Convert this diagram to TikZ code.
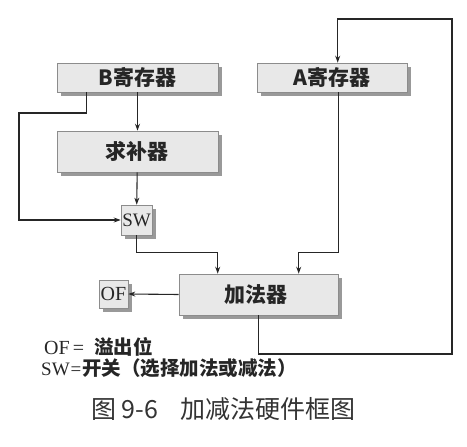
\documentclass[tikz,border=0pt]{standalone}
\usepackage{fontspec}
\setmainfont{Liberation Serif}
\newfontfamily\cjk{Noto Sans CJK SC}
\usetikzlibrary{arrows.meta,shadows,calc}
\tikzset{
  blk/.style={draw=black!45, line width=0.6pt, fill=black!9, inner sep=0pt,
    drop shadow={shadow xshift=4pt, shadow yshift=-4pt, fill=black!40, opacity=1}},
  lbl/.style={font=\cjk\bfseries\fontsize{21}{21}\selectfont, text=black!85},
  smallbox/.style={blk, text=black!85},
  conn/.style={line width=1.1pt, draw=black!85},
  arr/.style={conn, -{Stealth[length=7pt,width=5pt]}}
}
\begin{document}
\begin{tikzpicture}[x=1pt,y=-1pt]
\useasboundingbox (0,0) rectangle (467,447);
\node[blk, lbl, minimum width=161pt, minimum height=29pt] (Bn) at (137.5,77.5) {B寄存器};
\node[blk, lbl, minimum width=150pt, minimum height=29pt] (An) at (332,77.5) {A寄存器};
\node[blk, lbl, minimum width=161pt, minimum height=41pt] (Cn) at (137.5,151.5) {求补器};
\node[smallbox, minimum width=31pt, minimum height=30pt, font=\fontsize{19}{19}\selectfont] (SW) at (136.5,220) {SW};
\node[blk, lbl, minimum width=159pt, minimum height=41pt] (Ad) at (258.5,294.5) {\hspace{-6pt}加法器};
\node[smallbox, minimum width=29pt, minimum height=28pt, font=\fontsize{20}{20}\selectfont] (OF) at (113.5,294) {OF};

\coordinate (L1) at (19,113);
\coordinate (R1) at (452,354);
\coordinate (R2) at (452,19);

\draw[arr] (Bn) -- (Cn);
\draw[arr] (Cn) -- (SW);
\draw[arr] ([xshift=30pt]Bn.south west) |- (L1) |- (SW.west);
\draw[arr] (SW.south) -- ++(0,17) -| ([xshift=39pt]Ad.north west);
\draw[arr] ([xshift=82pt]An.south west) -- ++(0,160) -| ([xshift=120pt]Ad.north west);
\draw[arr] (Ad.south) |- (R1) -- (R2) -| ([xshift=81pt]An.north west);
\draw[arr] (Ad.west) -- (OF.east);

\node[anchor=west, inner sep=0pt, font=\fontsize{20}{20}\selectfont, text=black!85] (leg1) at (44,347)
  {OF\hspace{3pt}=\hspace{10pt}{\cjk\bfseries\fontsize{19.5}{19.5}\selectfont 溢出位}};
\node[anchor=west, inner sep=0pt, font=\fontsize{19}{19}\selectfont, text=black!85] (leg2) at (41,368)
  {SW\hspace{1pt}=\hspace{1pt}{\cjk\bfseries\fontsize{19.5}{19.5}\selectfont 开关（选择加法或减法）}};
\node[anchor=west, inner sep=0pt, font=\cjk\fontsize{25}{25}\selectfont, text=black!80] (cap) at (91,409)
  {图 9-6\hspace{22pt}加减法硬件框图};
\end{tikzpicture}
\end{document}
